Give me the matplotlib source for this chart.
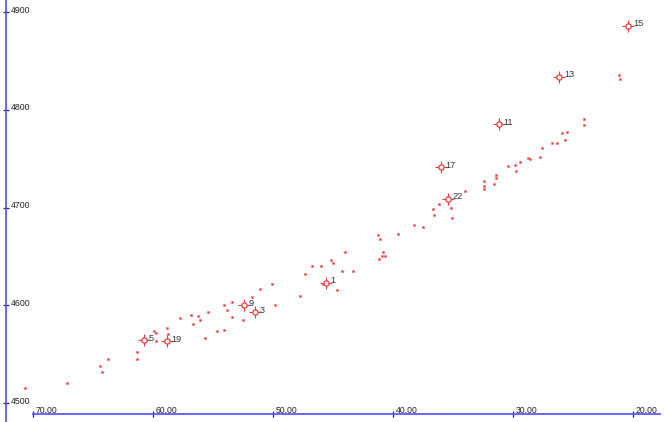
import numpy as np
import matplotlib
matplotlib.use("Agg")
import matplotlib.pyplot as plt
from matplotlib.transforms import offset_copy

# punti semplici (x, y)
pts_x = [70.67, 67.17, 64.42, 64.23, 63.73, 61.36, 61.33, 59.92, 59.73, 59.71,
         58.86, 58.72, 57.75, 56.86, 56.64, 56.22, 56.12, 55.67, 55.44, 54.69,
         54.08, 54.06, 53.86, 53.44, 53.39, 52.48, 51.78, 51.08, 50.06, 49.81,
         47.75, 47.31, 46.78, 46.03, 45.81, 45.17, 45.03, 44.69, 44.29, 43.96,
         43.35, 41.17, 41.27, 41.08, 40.86, 40.94, 40.64, 39.61, 38.25, 37.48,
         36.64, 36.61, 36.17, 35.19, 35.11, 34.00, 32.44, 32.39, 32.44, 31.58,
         31.42, 31.42, 30.42, 29.83, 29.72, 29.42, 28.73, 28.58, 27.75, 27.58,
         26.77, 26.31, 25.67, 25.89, 25.52, 24.06, 24.06, 21.19, 21.08]
pts_y = [4515, 4520, 4538, 4532, 4545, 4552, 4545, 4574, 4572, 4563,
         4577, 4571, 4587, 4590, 4581, 4589, 4585, 4567, 4593, 4574,
         4600, 4575, 4595, 4603, 4588, 4585, 4608, 4617, 4622, 4600,
         4610, 4632, 4640, 4640, 4622, 4646, 4643, 4616, 4635, 4655,
         4635, 4647, 4672, 4668, 4654, 4650, 4650, 4673, 4682, 4680,
         4698, 4692, 4704, 4700, 4689, 4717, 4727, 4722, 4719, 4724,
         4733, 4730, 4742, 4744, 4737, 4747, 4751, 4750, 4752, 4761,
         4766, 4766, 4769, 4776, 4777, 4791, 4784, 4836, 4831]

# punti etichettati
lab_names = ['15', '13', '11', '17', '22', '1', '9', '3', '5', '19']
lab_x = [20.39, 26.14, 31.17, 36.03, 35.39, 45.58, 52.42, 51.50, 60.75, 58.86]
lab_y = [4886, 4834, 4785, 4741, 4709, 4623, 4600, 4593, 4564, 4563]

x_ticks = [70, 60, 50, 40, 30, 20]
y_ticks = [4500, 4600, 4700, 4800, 4900]

axis_col = '#5a5aff'
tick_col = '#1a1a9a'
red = '#e23a3a'

fig = plt.figure(figsize=(6.64, 4.22), dpi=100)
ax = fig.add_axes([0, 0, 1, 1])
ax.set_xlim(72.75, 17.417)
ax.set_ylim(4480.6, 4912.3)

for s in ['top', 'right']:
    ax.spines[s].set_visible(False)
ax.spines['left'].set_position(('data', 72.25))
ax.spines['bottom'].set_position(('data', 4488.7))
ax.spines['bottom'].set_bounds(70, 17.75)
for s in ['left', 'bottom']:
    ax.spines[s].set_color(axis_col)
    ax.spines[s].set_linewidth(1.3)

ax.set_xticks(x_ticks)
ax.set_yticks(y_ticks)
ax.tick_params(axis='both', direction='inout', length=5, width=0.9,
               color=tick_col, labelleft=False, labelbottom=False)

for v in x_ticks:
    tr = offset_copy(ax.transData, fig=fig, x=2.2, y=-0.8, units='points')
    ax.text(v, 4488.7, f'{v:.2f}', transform=tr, fontsize=6.2,
            family='Liberation Sans', color='#222222', ha='left', va='bottom')
for v in y_ticks:
    tr = offset_copy(ax.transData, fig=fig, x=3.3, y=1.3, units='points')
    ax.text(72.25, v, str(v), transform=tr, fontsize=6.3,
            family='Liberation Sans', color='#222222', ha='left', va='center')

ax.plot(pts_x, pts_y, 's', ms=1.7, color=red, mec='#f07070', mew=0.4,
        linestyle='none')

ax.plot(lab_x, lab_y, '+', ms=8, mec=red, mew=0.8, linestyle='none')
ax.plot(lab_x, lab_y, 'o', ms=3.8, mfc='white', mec=red, mew=0.9, linestyle='none')
for n, x, y in zip(lab_names, lab_x, lab_y):
    tr = offset_copy(ax.transData, fig=fig, x=3.3, y=1.5, units='points')
    ax.text(x, y, n, transform=tr, fontsize=6.6, family='Liberation Sans',
            color='#333333', ha='left', va='center')

fig.savefig('out.png', dpi=100)
